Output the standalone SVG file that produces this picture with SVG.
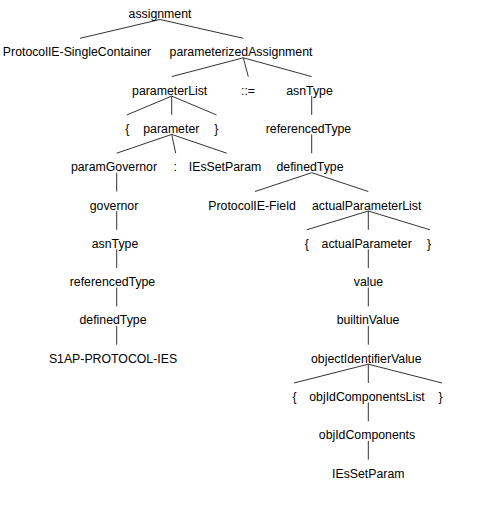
<svg xmlns="http://www.w3.org/2000/svg" width="484" height="515" viewBox="0 0 484 515">
<style>
text{font-family:"Liberation Sans",Arial,sans-serif;font-size:12.3px;fill:#000;text-anchor:middle}
.e line{stroke:#333;stroke-width:1;fill:none}
</style>
<rect width="484" height="515" fill="#fff"/>
<g id="connectors" class="e">
<line x1="160" y1="19.5" x2="80" y2="38.3"/>
<line x1="160" y1="19.5" x2="243.3" y2="38.3"/>
<line x1="243.3" y1="57.8" x2="171.7" y2="76.6"/>
<line x1="243.3" y1="57.8" x2="248.3" y2="76.6"/>
<line x1="243.3" y1="57.8" x2="311.7" y2="76.6"/>
<line x1="171.7" y1="96.1" x2="127" y2="114.9"/>
<line x1="171.7" y1="96.1" x2="171.7" y2="114.9"/>
<line x1="171.7" y1="96.1" x2="216.5" y2="114.9"/>
<line x1="311.7" y1="96.1" x2="311.7" y2="114.9"/>
<line x1="171.7" y1="134.4" x2="116.7" y2="153.2"/>
<line x1="171.7" y1="134.4" x2="175.7" y2="153.2"/>
<line x1="171.7" y1="134.4" x2="226.7" y2="153.2"/>
<line x1="311.7" y1="134.4" x2="311.7" y2="153.2"/>
<line x1="116.7" y1="172.7" x2="116.7" y2="191.5"/>
<line x1="311.7" y1="172.7" x2="255" y2="191.5"/>
<line x1="311.7" y1="172.7" x2="368.3" y2="191.5"/>
<line x1="116.7" y1="211" x2="116.7" y2="229.8"/>
<line x1="368.3" y1="211" x2="306.7" y2="229.8"/>
<line x1="368.3" y1="211" x2="368.3" y2="229.8"/>
<line x1="368.3" y1="211" x2="430" y2="229.8"/>
<line x1="116.7" y1="249.3" x2="116.7" y2="268.1"/>
<line x1="368.3" y1="249.3" x2="368.3" y2="268.1"/>
<line x1="116.7" y1="287.6" x2="116.7" y2="306.4"/>
<line x1="368.3" y1="287.6" x2="368.3" y2="306.4"/>
<line x1="116.7" y1="325.9" x2="116.7" y2="344.7"/>
<line x1="368.3" y1="325.9" x2="368.3" y2="344.7"/>
<line x1="368.3" y1="364.2" x2="294" y2="383"/>
<line x1="368.3" y1="364.2" x2="368.3" y2="383"/>
<line x1="368.3" y1="364.2" x2="442" y2="383"/>
<line x1="368.3" y1="402.5" x2="368.3" y2="421.3"/>
<line x1="368.3" y1="440.8" x2="368.3" y2="459.6"/>
</g>
<g id="n-assignment"><text x="160" y="18">assignment</text></g>
<g id="n-protocolIE-SingleContainer"><text x="77" y="56.3">ProtocolIE-SingleContainer</text></g>
<g id="n-parameterizedAssignment"><text x="241" y="56.3">parameterizedAssignment</text></g>
<g id="n-parameterList"><text x="169.7" y="94.6">parameterList</text></g>
<g id="n-assign-op"><text x="248" y="94.6">::=</text></g>
<g id="n-asnType-r"><text x="309.5" y="94.6">asnType</text></g>
<g id="n-lbrace1"><text x="127.3" y="132.9">{</text></g>
<g id="n-parameter"><text x="171.3" y="132.9">parameter</text></g>
<g id="n-rbrace1"><text x="216.3" y="132.9">}</text></g>
<g id="n-referencedType-r"><text x="308.5" y="132.9">referencedType</text></g>
<g id="n-paramGovernor"><text x="114" y="171.2">paramGovernor</text></g>
<g id="n-colon"><text x="175.3" y="171.2">:</text></g>
<g id="n-IEsSetParam1"><text x="225" y="171.2">IEsSetParam</text></g>
<g id="n-definedType-r"><text x="310" y="171.2">definedType</text></g>
<g id="n-governor"><text x="114" y="209.5">governor</text></g>
<g id="n-protocolIE-Field"><text x="252" y="209.5">ProtocolIE-Field</text></g>
<g id="n-actualParameterList"><text x="366.7" y="209.5">actualParameterList</text></g>
<g id="n-asnType-l"><text x="115" y="247.8">asnType</text></g>
<g id="n-lbrace2"><text x="306.7" y="247.8">{</text></g>
<g id="n-actualParameter"><text x="366.7" y="247.8">actualParameter</text></g>
<g id="n-rbrace2"><text x="429" y="247.8">}</text></g>
<g id="n-referencedType-l"><text x="112.5" y="286.1">referencedType</text></g>
<g id="n-value"><text x="368.5" y="286.1">value</text></g>
<g id="n-definedType-l"><text x="113" y="324.4">definedType</text></g>
<g id="n-builtinValue"><text x="368" y="324.4">builtinValue</text></g>
<g id="n-s1ap"><text x="113" y="362.7">S1AP-PROTOCOL-IES</text></g>
<g id="n-objectIdentifierValue"><text x="366.3" y="362.7">objectIdentifierValue</text></g>
<g id="n-lbrace3"><text x="294.5" y="401">{</text></g>
<g id="n-objIdComponentsList"><text x="367" y="401">objIdComponentsList</text></g>
<g id="n-rbrace3"><text x="440.5" y="401">}</text></g>
<g id="n-objIdComponents"><text x="367" y="439.3">objIdComponents</text></g>
<g id="n-IEsSetParam2"><text x="368.3" y="477.6">IEsSetParam</text></g>
</svg>
